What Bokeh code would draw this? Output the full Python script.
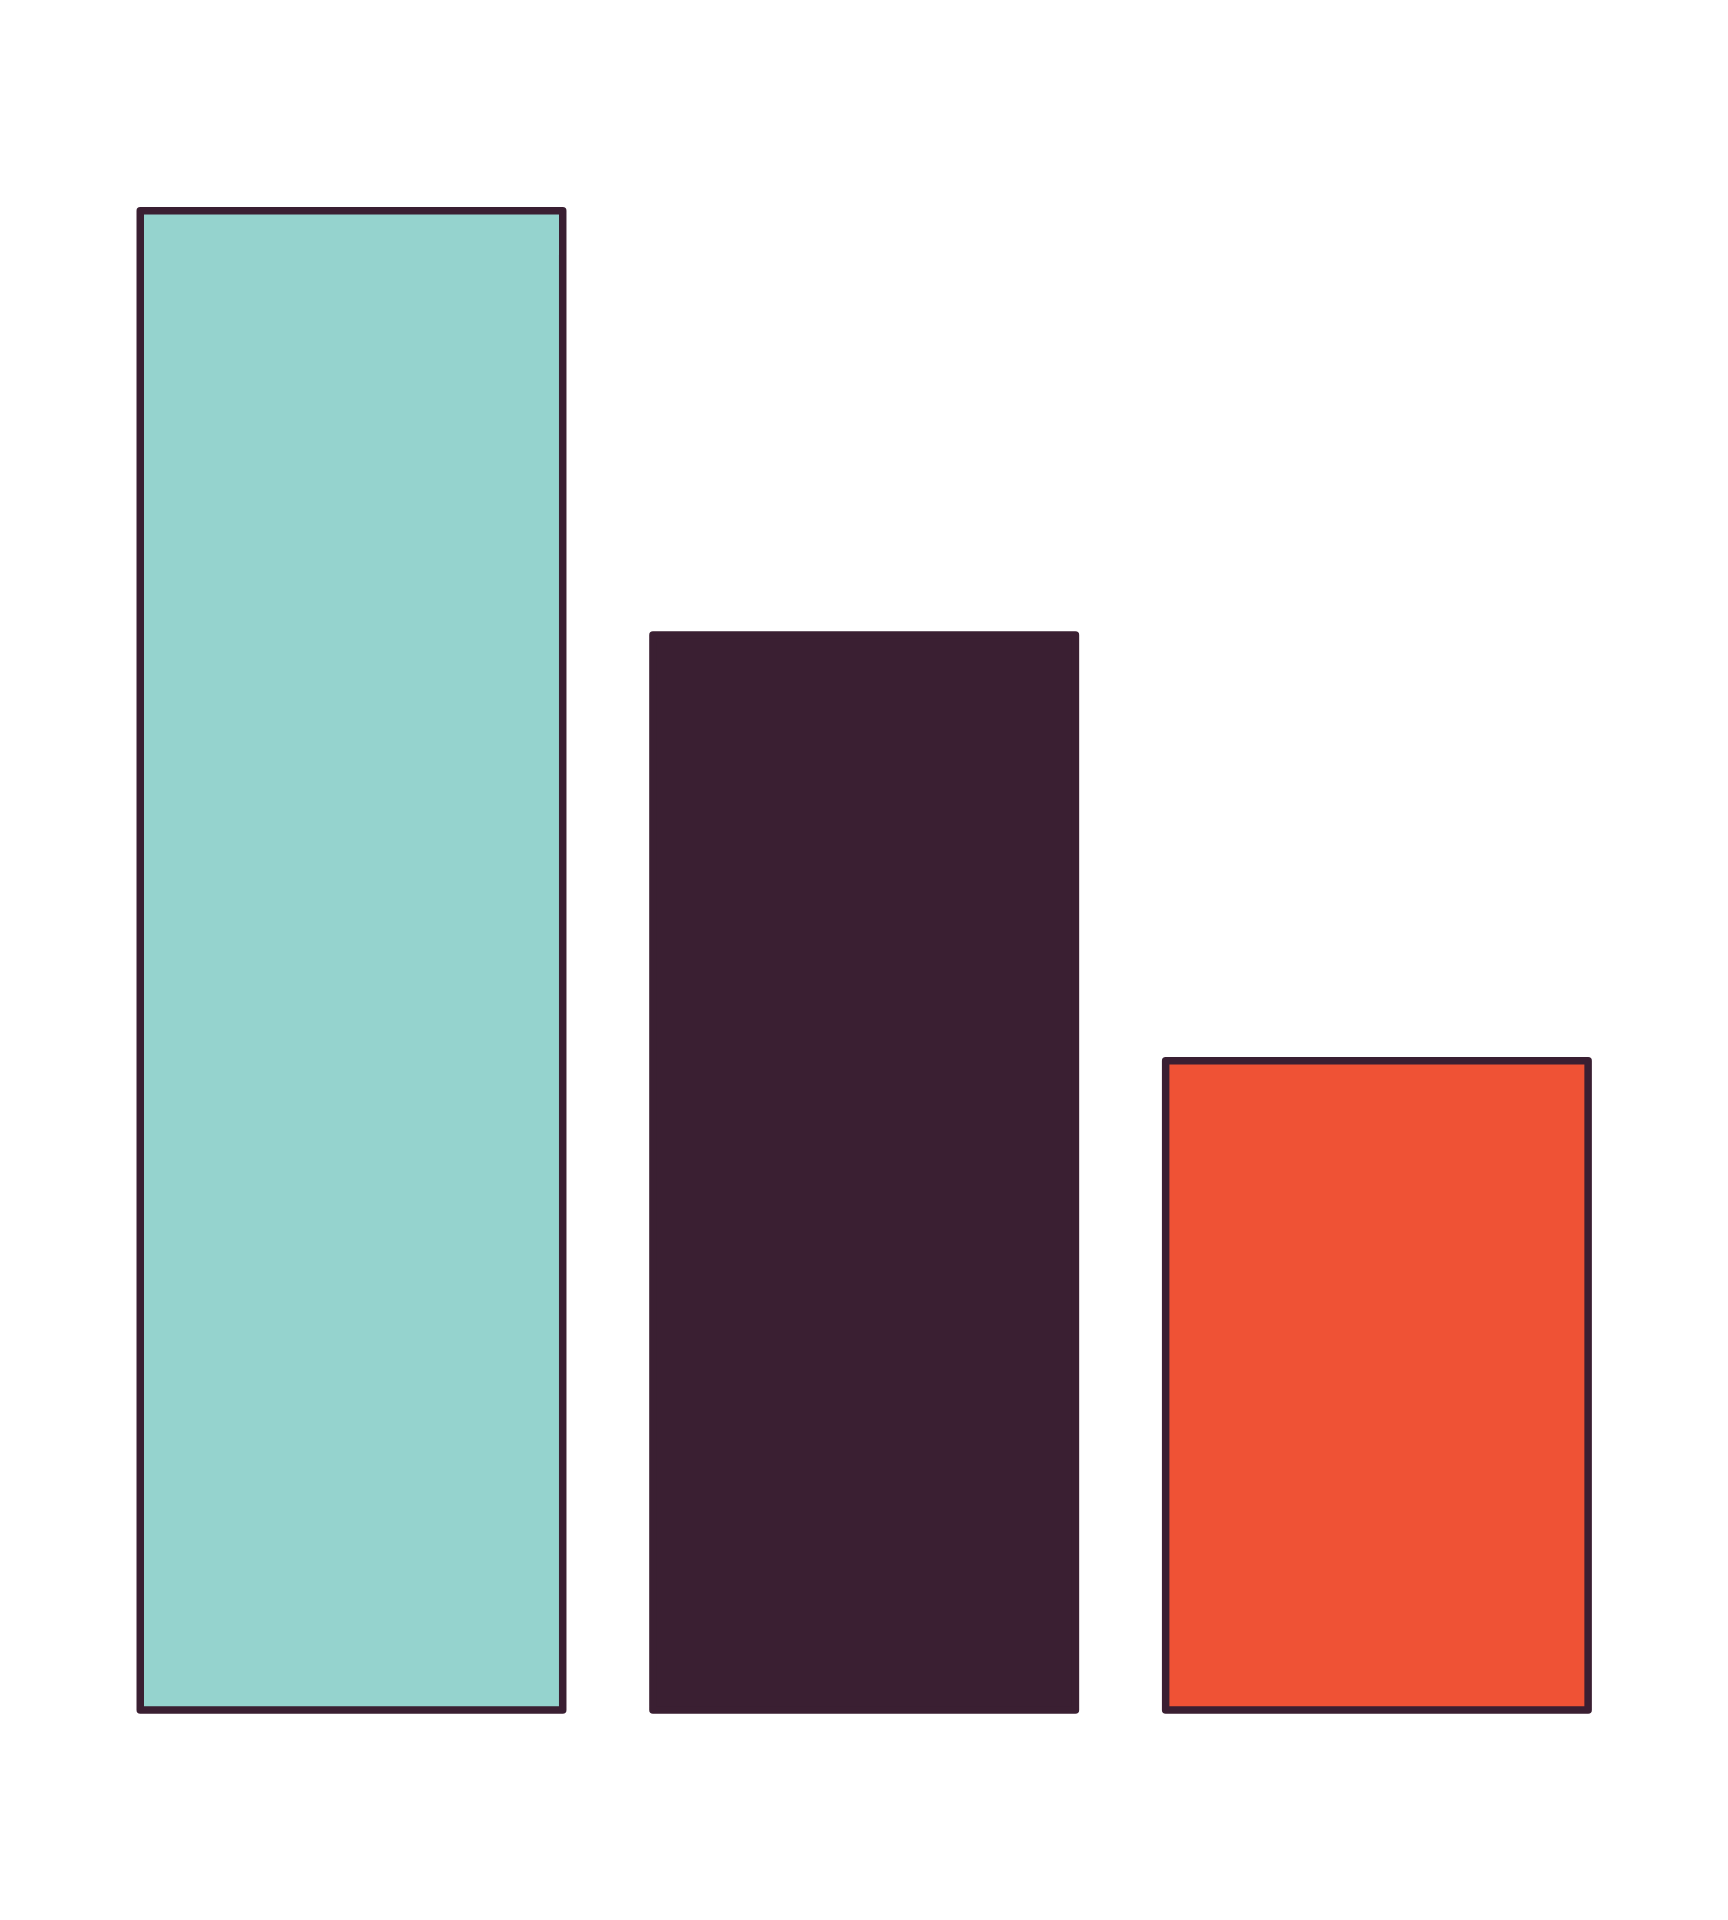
from bokeh.plotting import figure
from bokeh.models import Range1d, ColumnDataSource
from bokeh.embed import file_html
from bokeh.resources import INLINE

# Data (relative heights)
categories = ["A", "B", "C"]
positions = [0, 1, 2]
values = [100, 71.7, 43.3]
colors = ["#95D3CE", "#3A1F32", "#EF5235"]

src = ColumnDataSource(dict(x=positions, top=values, color=colors, cat=categories))

p = figure(width=1712, height=1904, output_backend="svg", toolbar_location=None,
           x_axis_type=None, y_axis_type=None,
           x_range=Range1d(-0.6846, 2.6546), y_range=Range1d(-12.975, 114.03),
           min_border=0, min_border_left=0, min_border_right=0,
           min_border_top=0, min_border_bottom=0)
p.outline_line_color = None
p.background_fill_color = "white"
p.border_fill_color = "white"
p.xgrid.visible = False
p.ygrid.visible = False

p.vbar(x="x", top="top", bottom=0, width=0.824, source=src,
       fill_color="color", line_color="#3A1F32", line_width=7.5,
       line_join="round")

open("out.html", "w").write(file_html(p, INLINE))
